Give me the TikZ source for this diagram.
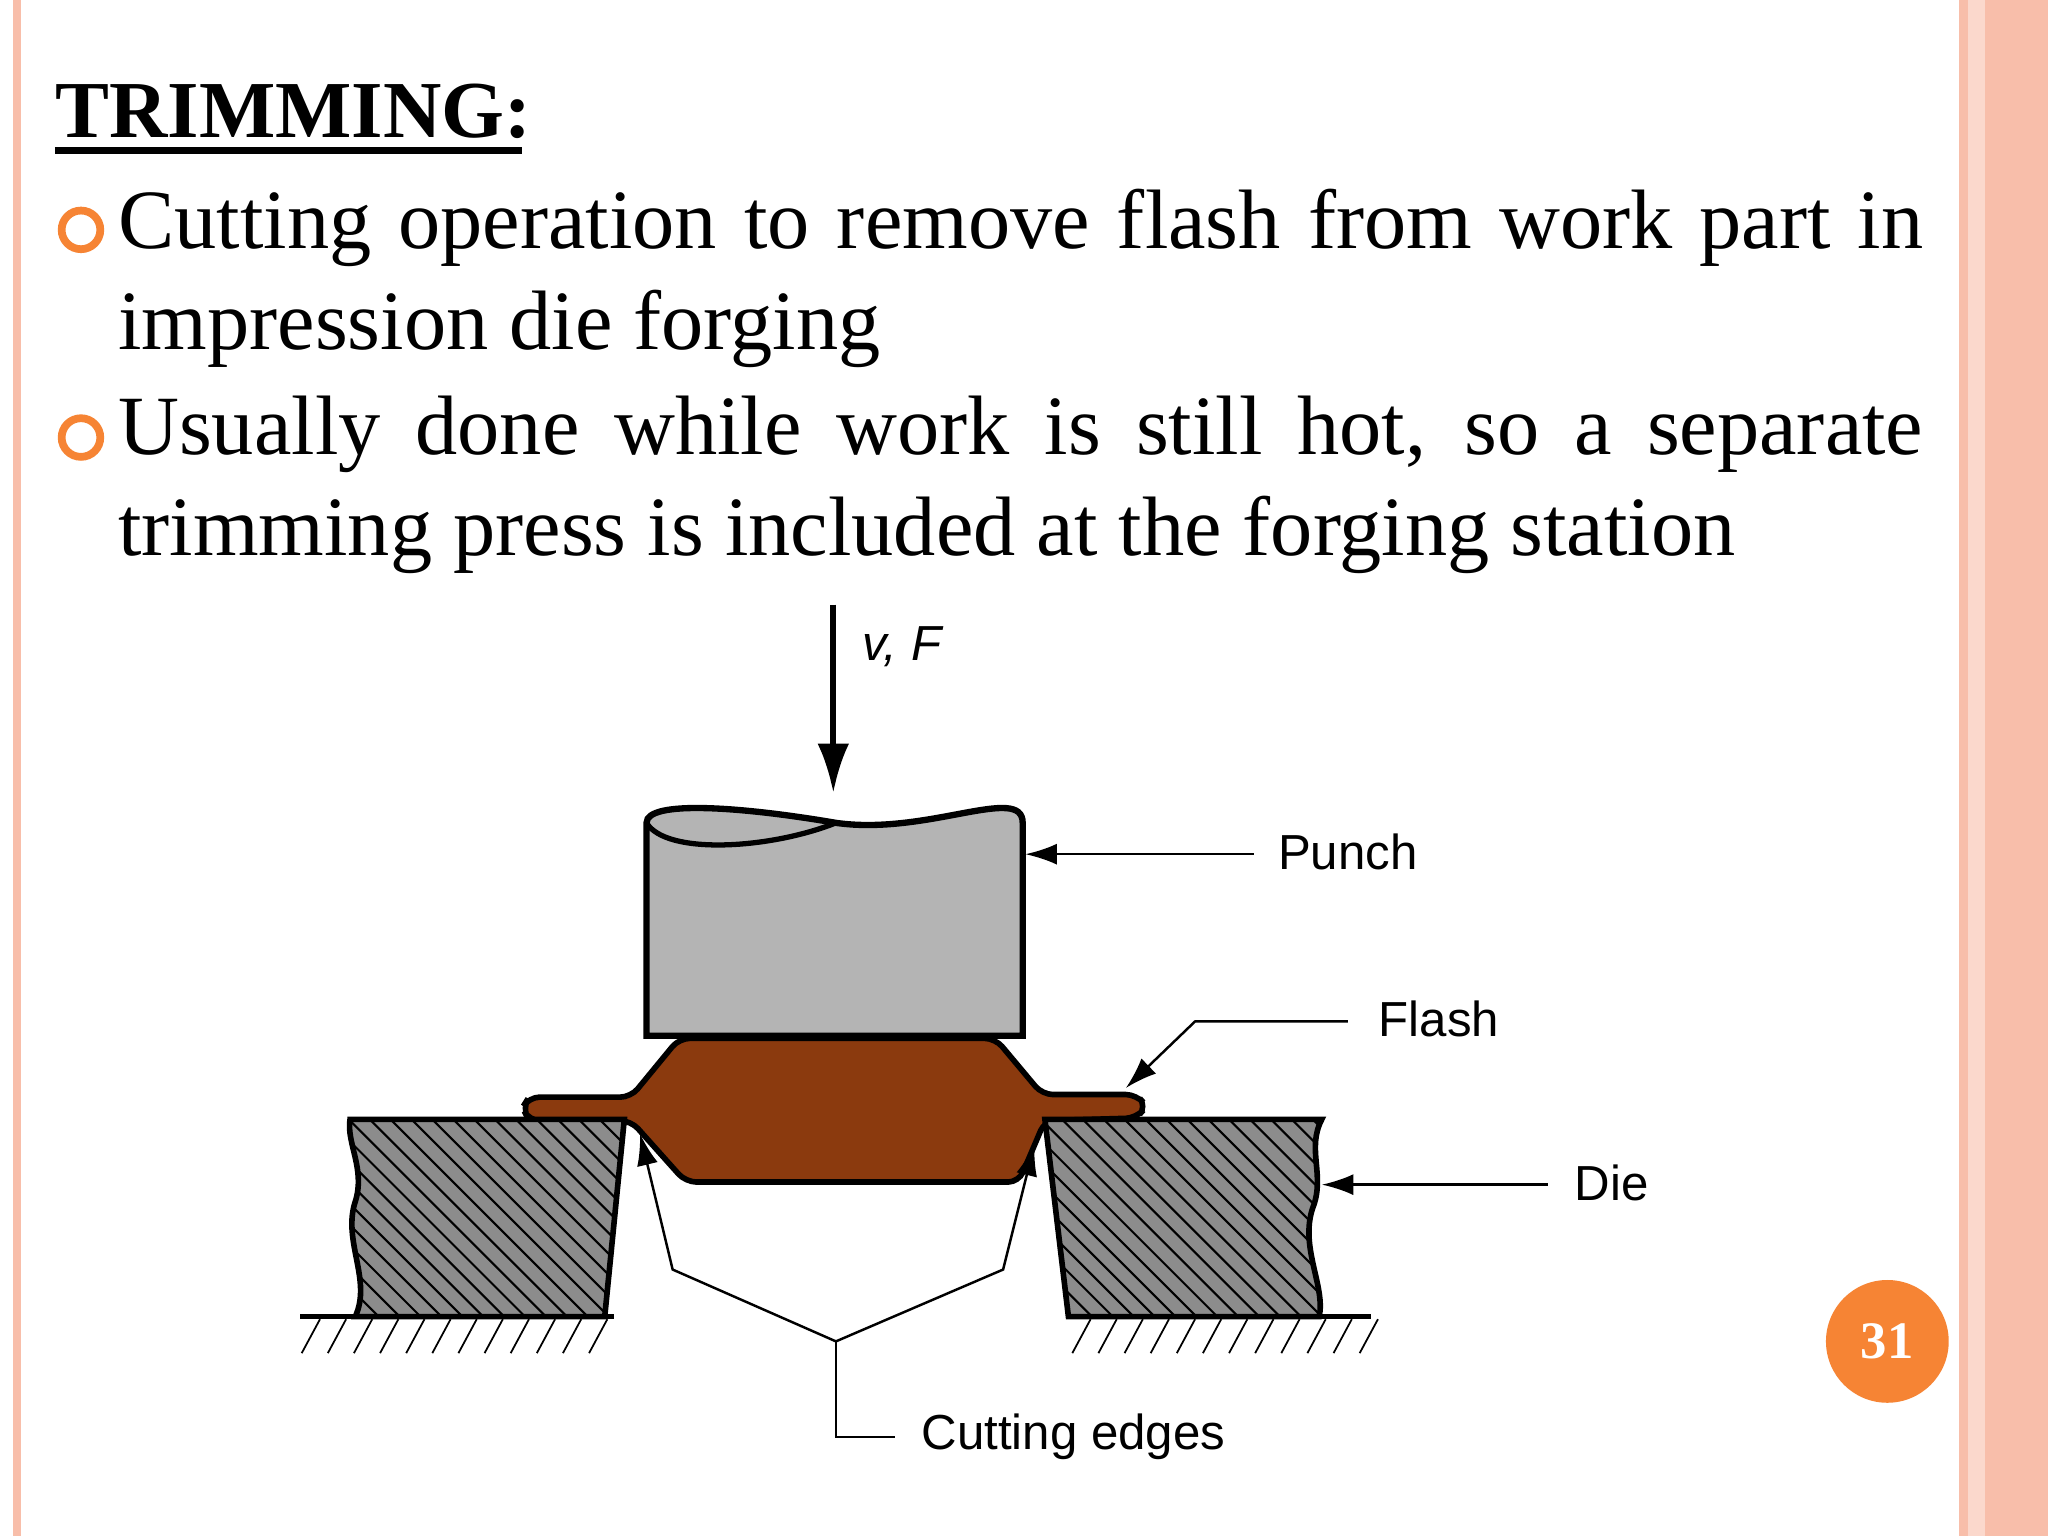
\documentclass[tikz,border=0pt]{standalone}
\usepackage{fontspec}
\setmainfont{Liberation Serif}
\newfontfamily\lsans{Liberation Sans}
\usetikzlibrary{arrows.meta}
\definecolor{pinkb}{RGB}{248,190,170}
\definecolor{orng}{RGB}{246,132,52}
\definecolor{brn}{RGB}{139,58,14}
\definecolor{gry}{RGB}{180,180,180}
\definecolor{dgry}{RGB}{140,140,140}
\newcommand\nohy{\hyphenpenalty=10000\relax\exhyphenpenalty=10000\relax}
\begin{document}
\begin{tikzpicture}[x=0.013061cm,y=-0.013061cm,
 lab/.style={font=\lsans\fontsize{14}{16}\selectfont,anchor=west,inner sep=0},
 arr/.style={-{Latex[length=9pt,width=6pt]},line width=0.7pt},
 ln/.style={line width=0.7pt},
 bul/.style={circle,draw=orng,line width=2.2pt,minimum size=11pt,inner sep=0},
 body/.style={anchor=north west,inner sep=0,text width=1382*0.013061cm,align=justify,font=\fontsize{24}{28.7}\selectfont}]
\useasboundingbox (0,0) rectangle (1568,1176);
\fill[white] (0,0) rectangle (1568,1176);
% borders
\fill[pinkb] (10,0) rectangle (16,1176);
\fill[pinkb] (1500,0) rectangle (1507,1176);
\fill[pinkb!60] (1507,0) rectangle (1520,1176);
\fill[pinkb] (1520,0) rectangle (1568,1176);
% title
\node[anchor=base west,inner sep=0,font=\bfseries\fontsize{23}{28}\selectfont] (title) at (42,105) {TRIMMING:};
\draw[line width=2pt] (42,115) -- (400,115);
\node[bul] (b1) at (62,176) {};
\node[body] (t1) at (90,144) {\nohy Cutting operation to remove flash from work part in \mbox{impression} die forging};
\node[bul] (b2) at (62,335) {};
\node[body] (t2) at (90,303) {\nohy Usually done while work is still hot, so a \mbox{separate} \mbox{trimming} press is included at the forging station};
% arrow
\coordinate (a1) at (638,463); \coordinate (a2) at (638,607);
\draw[-{Latex[length=14pt,width=9pt]},line width=1.6pt] (a1) -- (a2);
\node[lab,font=\lsans\itshape\fontsize{14}{16}\selectfont] (vf) at (660,495) {v, F};
% punch
\filldraw[fill=gry,line width=1.8pt] (495,793) -- (495,630) .. controls (495,612) and (570,618) .. (640,630) .. controls (710,640) and (783,600) .. (783,630) -- (783,793) -- cycle;
\draw[line width=1.5pt] (495,630) .. controls (510,655) and (590,650) .. (640,630);
% workpiece
\filldraw[fill=brn,line width=1.6pt,rounded corners=3pt] (520,795) -- (762,795) -- (798,838) -- (870,838) -- (878,847) -- (870,856) -- (800,858) -- (780,905) -- (525,905) -- (483,858) -- (405,858) -- (400,848) -- (405,840) -- (483,840) -- cycle;
% dies
\def\ldie{(268,857) -- (478,857) -- (463,1008) -- (272,1008) .. controls (285,980) and (262,950) .. (272,920) .. controls (280,895) and (265,875) .. (268,857) -- cycle}
\def\rdie{(800,857) -- (1012,857) .. controls (1000,880) and (1015,900) .. (1005,925) .. controls (995,955) and (1015,985) .. (1010,1008) -- (818,1008) -- cycle}
\fill[dgry] \ldie;
\begin{scope}\clip \ldie; \foreach \x in {100,116,...,500} \draw[line width=0.6pt] (\x,850) -- (\x+165,1015); \end{scope}
\draw[line width=1.6pt] \ldie;
\fill[dgry] \rdie;
\begin{scope}\clip \rdie; \foreach \x in {630,646,...,1020} \draw[line width=0.6pt] (\x,850) -- (\x+165,1015); \end{scope}
\draw[line width=1.6pt] \rdie;
% ground
\draw[line width=1.6pt] (230,1008) -- (470,1008) (818,1008) -- (1050,1008);
\foreach \x in {245,265,...,465} \draw[line width=0.5pt] (\x,1010) -- (\x-14,1036);
\foreach \x in {835,855,...,1055} \draw[line width=0.5pt] (\x,1010) -- (\x-14,1036);
% labels
\node[lab] (punch) at (978,652) {Punch};
\coordinate (p0) at (960,654); \coordinate (pe) at (785,654);
\draw[arr] (p0) -- (pe);
\node[lab] (flash) at (1055,780) {Flash};
\coordinate (f0) at (1032,782); \coordinate (f1) at (915,782); \coordinate (fe) at (862,833);
\draw[arr] (f0) -- (f1) -- (fe);
\node[lab] (die) at (1205,906) {Die};
\coordinate (d0) at (1185,907); \coordinate (de) at (1012,907);
\draw[arr] (d0) -- (de);
\node[lab] (cut) at (705,1100) {Cutting edges};
\coordinate (c0) at (685,1100); \coordinate (c1) at (640,1100); \coordinate (c2) at (640,1027);
\coordinate (l1) at (515,972); \coordinate (le) at (490,868);
\coordinate (r1) at (768,972); \coordinate (re) at (792,876);
\draw[ln] (c0) -- (c1) -- (c2);
\draw[arr] (c2) -- (l1) -- (le);
\draw[arr] (c2) -- (r1) -- (re);
% page number
\node[circle,fill=orng,minimum size=94*0.013061cm,text=white,font=\bfseries\fontsize{15}{18}\selectfont] (pg) at (1445,1027) {31};
\end{tikzpicture}
\end{document}
